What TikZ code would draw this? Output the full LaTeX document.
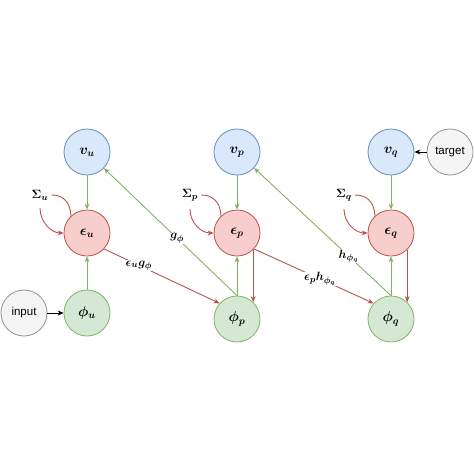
\documentclass[tikz,border=0pt]{standalone}
\usepackage{amsmath, amssymb}
\usepackage{bm}
\usepackage{fontspec}
\setsansfont{Liberation Sans}
\usetikzlibrary{arrows.meta, positioning}

\definecolor{vfill}{HTML}{DAE8FC}
\definecolor{vline}{HTML}{6C8EBF}
\definecolor{efill}{HTML}{F8CECC}
\definecolor{eline}{HTML}{B85450}
\definecolor{pfill}{HTML}{D5E8D4}
\definecolor{pline}{HTML}{82B366}
\definecolor{gfill}{HTML}{F5F5F5}
\definecolor{gline}{HTML}{666666}

\tikzset{
  unit/.style={circle, minimum size=46pt, inner sep=0pt, line width=0.8pt, font=\fontsize{14}{16}\selectfont},
  vnode/.style={unit, draw=vline, fill=vfill},
  enode/.style={unit, draw=eline, fill=efill},
  pnode/.style={unit, draw=pline, fill=pfill},
  ionode/.style={unit, draw=gline!70, fill=gfill, font=\sffamily\fontsize{11.5}{13}\selectfont},
  signode/.style={inner sep=3pt, font=\fontsize{13}{15}\selectfont},
  greenline/.style={draw=pline, line width=0.9pt, -{Stealth[length=6pt,width=5pt]}},
  redline/.style={draw=eline, line width=0.9pt, -{Stealth[length=6pt,width=5pt]}},
  blackline/.style={draw=black, line width=0.9pt, -{Stealth[length=6pt,width=5pt]}},
  lbl/.style={fill=white, inner sep=1pt, font=\fontsize{13}{15}\selectfont}
}

\begin{document}
\begin{tikzpicture}[x=1pt, y=-1pt]
  \useasboundingbox (0,0) rectangle (474,474);

  % Value nodes
  \node[vnode] (vu) at (87,152) {$\bm{v_u}$};
  \node[vnode] (vp) at (237,152) {$\bm{v_p}$};
  \node[vnode] (vq) at (391,152) {$\bm{v_q}$};

  % Error nodes
  \node[enode] (eu) at (87,233) {$\bm{\epsilon_u}$};
  \node[enode] (ep) at (237,233) {$\bm{\epsilon_p}$};
  \node[enode] (eq) at (391,233) {$\bm{\epsilon_q}$};

  % Parameter nodes
  \node[pnode] (phiu) at (87,313) {$\bm{\phi_u}$};
  \node[pnode] (phip) at (237,319) {$\bm{\phi_p}$};
  \node[pnode] (phiq) at (391,319) {$\bm{\phi_q}$};

  % Input and target
  \node[ionode] (inp) at (24,313) {input};
  \node[ionode] (tgt) at (450,152) {target};

  % Covariance labels
  \node[signode] (sigu) at (40,195) {$\bm{\Sigma_u}$};
  \node[signode] (sigp) at (190,195) {$\bm{\Sigma_p}$};
  \node[signode] (sigq) at (344,195) {$\bm{\Sigma_q}$};

  % Covariance loops
  \draw[eline, line width=0.9pt] (eu.133) .. controls +(-1,-16) and +(10,0) .. (sigu.east);
  \draw[redline] ([yshift=-5pt]sigu.south) .. controls +(0,14) and +(-12,0) .. (eu.west);
  \draw[eline, line width=0.9pt] (ep.133) .. controls +(-1,-16) and +(10,0) .. (sigp.east);
  \draw[redline] ([yshift=-5pt]sigp.south) .. controls +(0,14) and +(-12,0) .. (ep.west);
  \draw[eline, line width=0.9pt] (eq.133) .. controls +(-1,-16) and +(10,0) .. (sigq.east);
  \draw[redline] ([yshift=-5pt]sigq.south) .. controls +(0,14) and +(-12,0) .. (eq.west);

  % Vertical connections
  \draw[greenline] (vu) -- (eu);
  \draw[greenline] (phiu) -- (eu);
  \draw[greenline] (vp) -- (ep);
  \draw[greenline] (phip) -- (ep);
  \draw[redline] (ep.-46) -- (phip.46);
  \draw[greenline] (vq) -- (eq);
  \draw[greenline] (phiq) -- (eq);
  \draw[redline] (eq.-46) -- (phiq.46);

  % Input and target arrows
  \draw[blackline] (inp) -- (phiu);
  \draw[blackline] (tgt) -- (vq);

  % Cross-layer connections
  \draw[redline] (eu.-43) -- node[lbl, pos=0.3] {$\bm{\epsilon_u g_\phi}$} (phip.138);
  \draw[greenline] (phip.north) -- node[lbl, pos=0.45] {$\bm{g_\phi}$} (vu);
  \draw[redline] (ep.-43) -- node[lbl, pos=0.55] {$\bm{\epsilon_p h_{\phi_q}}$} (phiq.138);
  \draw[greenline] (phiq.north) -- node[lbl, pos=0.31] {$\bm{h_{\phi_q}}$} (vp);
\end{tikzpicture}
\end{document}
